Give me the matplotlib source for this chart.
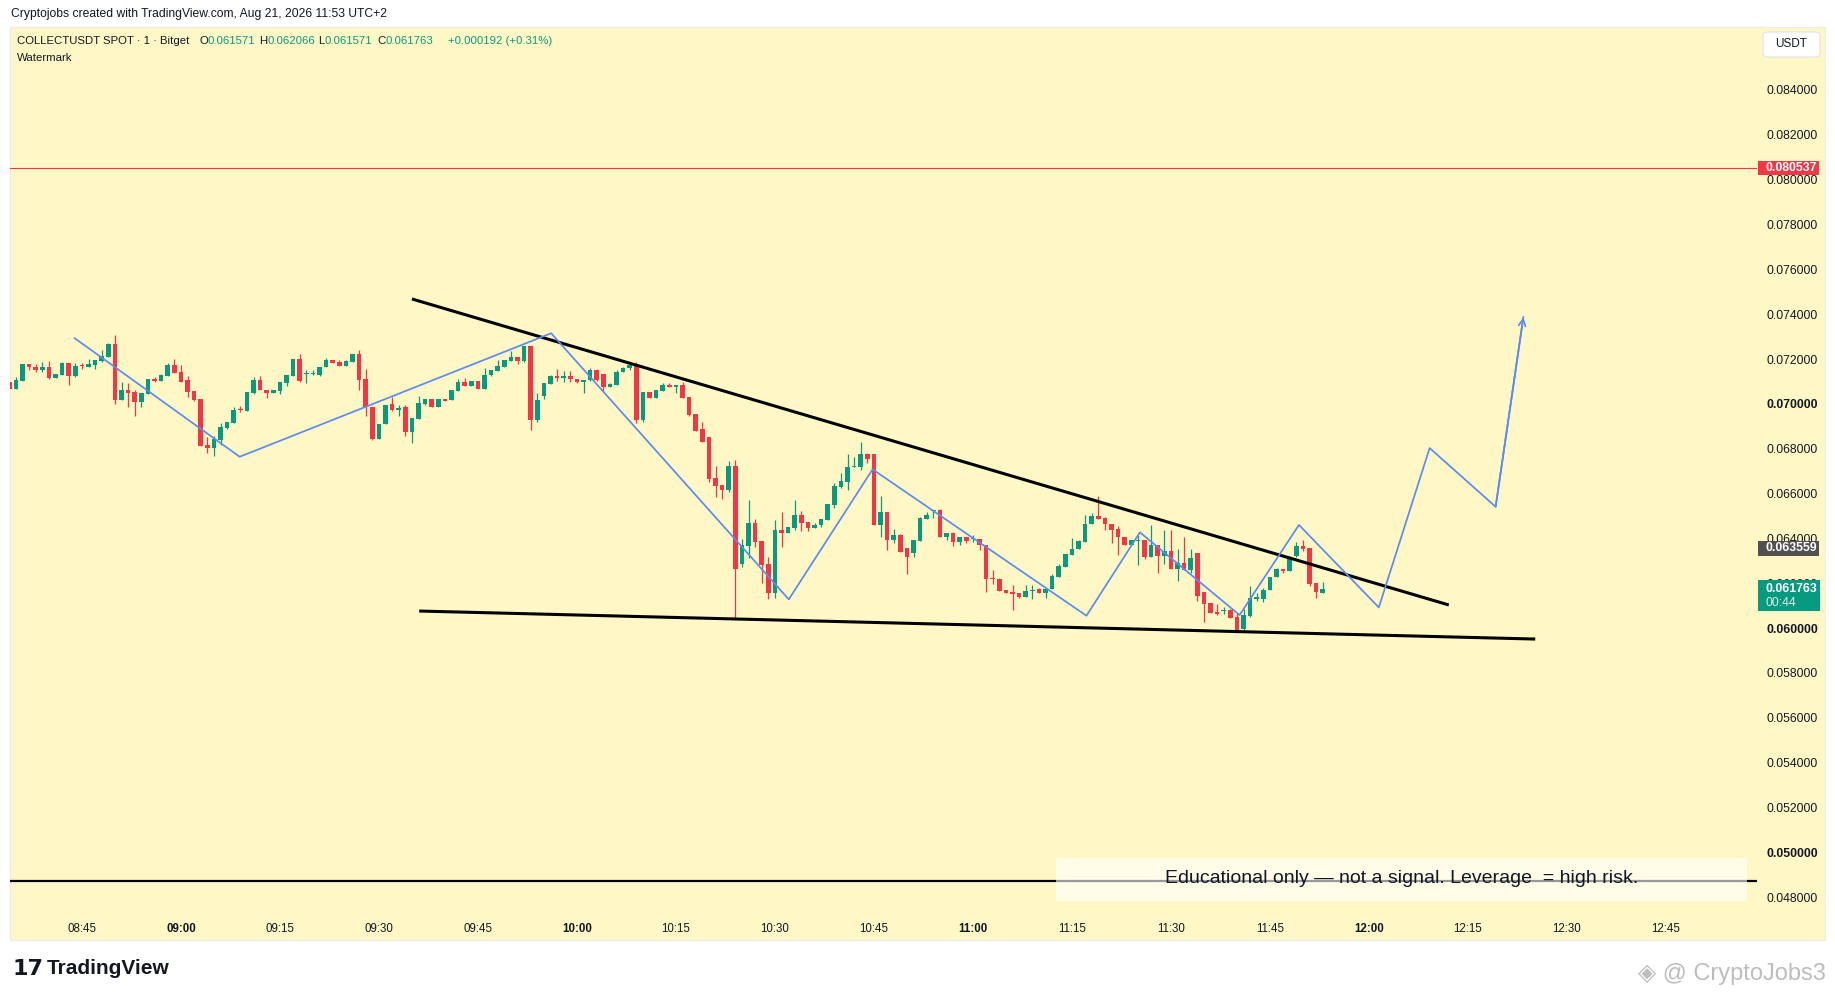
import matplotlib
matplotlib.use("Agg")
from matplotlib import pyplot as plt
from matplotlib.patches import Rectangle, FancyBboxPatch
import numpy as np

plt.rcParams['font.family'] = ['Liberation Sans', 'DejaVu Sans']

W, H = 1835, 1000

# 1-minute candles, first one at 08:34 (x = minutes after 08:00)
start_minute = 34
opens = [
    .07099, .07066, .07103, .07178, .07164, .07152, .07164, .07115, .07128, .07182,
    .07124, .07169, .07163, .07175, .07193, .07210, .07269, .07018, .07061, .07052,
    .07008, .07045, .07111, .07103, .07125, .07173, .07142, .07106, .07058, .07021,
    .06816, .06804, .06839, .06892, .06915, .06975, .06969, .07048, .07106, .07064,
    .07049, .07058, .07094, .07125, .07200, .07133, .07133, .07128, .07163, .07195,
    .07187, .07170, .07188, .07224, .07109, .06987, .06842, .06912, .06999, .06972,
    .06985, .06874, .06933, .06999, .07021, .06985, .07021, .07017, .07058, .07097,
    .07079, .07102, .07066, .07128, .07146, .07166, .07193, .07209, .07191, .07258,
    .06927, .07035, .07090, .07124, .07115, .07124, .07113, .07096, .07106, .07151,
    .07133, .07074, .07085, .07144, .07158, .07173, .06928, .07051, .07027, .07059,
    .07084, .07074, .07084, .07032, .06955, .06888, .06854, .06671, .06638, .06616,
    .06723, .06285, .06366, .06469, .06388, .06285, .06158, .06437, .06425, .06448,
    .06504, .06474, .06448, .06461, .06482, .06549, .06628, .06653, .06720, .06720,
    .06777, .06777, .06460, .06518, .06393, .06415, .06359, .06336, .06388, .06488,
    .06521, .06527, .06408, .06424, .06386, .06405, .06397, .06399, .06371, .06223,
    .06219, .06170, .06161, .06157, .06140, .06167, .06174, .06157, .06173, .06229,
    .06274, .06327, .06353, .06386, .06463, .06500, .06493, .06463, .06441, .06405,
    .06371, .06390, .06393, .06316, .06371, .06322, .06344, .06264, .06289, .06259,
    .06336, .06162, .06110, .06072, .06078, .06081, .06051, .05995, .06054, .06130,
    .06130, .06170, .06226, .06262, .06256, .06321, .06366, .06356, .06200, .061571]
highs = [
    .07099, .07121, .07178, .07178, .07176, .07187, .07191, .07124, .07188, .07182,
    .07181, .07181, .07200, .07195, .07240, .07273, .07307, .07097, .07094, .07064,
    .07048, .07111, .07119, .07133, .07181, .07200, .07173, .07124, .07058, .07021,
    .06853, .06856, .06914, .06918, .06984, .06990, .07052, .07119, .07124, .07064,
    .07061, .07097, .07128, .07200, .07222, .07151, .07151, .07166, .07203, .07195,
    .07195, .07194, .07222, .07240, .07154, .06987, .06909, .06997, .07032, .06994,
    .06997, .06936, .07035, .07021, .07021, .07021, .07021, .07061, .07109, .07115,
    .07102, .07102, .07158, .07151, .07195, .07195, .07237, .07209, .07258, .07258,
    .07047, .07093, .07130, .07154, .07146, .07146, .07113, .07106, .07160, .07155,
    .07133, .07095, .07151, .07165, .07180, .07185, .07051, .07051, .07062, .07092,
    .07092, .07084, .07096, .07032, .06955, .06921, .06854, .06723, .06638, .06747,
    .06750, .06397, .06571, .06486, .06388, .06318, .06482, .06516, .06451, .06571,
    .06522, .06474, .06467, .06486, .06553, .06646, .06692, .06777, .06762, .06830,
    .06783, .06777, .06589, .06518, .06443, .06420, .06359, .06393, .06497, .06519,
    .06527, .06530, .06424, .06428, .06405, .06405, .06414, .06399, .06371, .06259,
    .06223, .06170, .06192, .06157, .06192, .06190, .06177, .06173, .06241, .06284,
    .06330, .06400, .06393, .06504, .06512, .06591, .06494, .06463, .06455, .06405,
    .06393, .06415, .06393, .06460, .06371, .06438, .06438, .06351, .06405, .06351,
    .06336, .06162, .06110, .06107, .06096, .06084, .06066, .06084, .06188, .06155,
    .06177, .06229, .06267, .06262, .06321, .06386, .06393, .06356, .06200, .062066]
lows = [
    .07066, .07066, .07103, .07151, .07143, .07143, .07112, .07115, .07128, .07085,
    .07121, .07157, .07163, .07157, .07188, .07210, .07000, .07018, .06987, .06947,
    .06987, .07045, .07099, .07103, .07125, .07139, .07099, .07032, .07014, .06813,
    .06781, .06768, .06817, .06889, .06915, .06962, .06969, .07045, .07061, .07026,
    .07049, .07045, .07081, .07125, .07099, .07091, .07131, .07124, .07163, .07184,
    .07170, .07170, .07188, .07061, .06947, .06838, .06842, .06909, .06969, .06947,
    .06856, .06826, .06933, .06994, .06987, .06985, .07015, .07017, .07058, .07079,
    .07079, .07066, .07066, .07125, .07146, .07166, .07193, .07176, .07188, .06883,
    .06920, .07020, .07090, .07102, .07099, .07099, .07093, .07047, .07100, .07100,
    .07059, .07074, .07085, .07140, .07150, .06916, .06921, .07027, .07027, .07059,
    .07074, .07050, .07027, .06946, .06880, .06831, .06653, .06586, .06574, .06609,
    .06043, .06271, .06311, .06360, .06202, .06131, .06136, .06360, .06425, .06437,
    .06433, .06433, .06448, .06452, .06482, .06537, .06626, .06616, .06720, .06705,
    .06738, .06460, .06408, .06348, .06381, .06341, .06241, .06319, .06388, .06488,
    .06492, .06408, .06393, .06366, .06371, .06381, .06384, .06348, .06159, .06197,
    .06167, .06157, .06081, .06133, .06140, .06131, .06157, .06136, .06173, .06229,
    .06274, .06327, .06353, .06386, .06463, .06488, .06438, .06378, .06326, .06371,
    .06371, .06281, .06308, .06316, .06247, .06286, .06264, .06212, .06259, .06244,
    .06122, .06029, .06069, .06058, .06061, .06046, .05984, .05984, .06051, .06121,
    .06118, .06170, .06226, .06247, .06256, .06316, .06345, .06188, .06133, .061571]
closes = [
    .07066, .07106, .07178, .07164, .07152, .07164, .07115, .07133, .07184, .07125,
    .07169, .07168, .07178, .07195, .07213, .07269, .07017, .07061, .07049, .07009,
    .07048, .07111, .07102, .07128, .07173, .07139, .07099, .07054, .07017, .06813,
    .06804, .06842, .06896, .06918, .06972, .06974, .07052, .07106, .07061, .07049,
    .07061, .07097, .07128, .07200, .07102, .07136, .07136, .07164, .07195, .07184,
    .07170, .07191, .07222, .07106, .06984, .06842, .06909, .06994, .06972, .06981,
    .06874, .06936, .07003, .07021, .06987, .07021, .07015, .07061, .07097, .07079,
    .07102, .07066, .07128, .07151, .07170, .07195, .07209, .07193, .07258, .06927,
    .07017, .07093, .07125, .07115, .07124, .07112, .07096, .07106, .07151, .07106,
    .07074, .07089, .07144, .07158, .07172, .06928, .07051, .07027, .07062, .07084,
    .07074, .07084, .07027, .06951, .06880, .06831, .06666, .06634, .06616, .06723,
    .06263, .06370, .06469, .06384, .06281, .06158, .06437, .06425, .06451, .06504,
    .06467, .06448, .06461, .06486, .06553, .06634, .06656, .06719, .06725, .06777,
    .06753, .06460, .06518, .06393, .06415, .06341, .06319, .06393, .06491, .06504,
    .06527, .06408, .06424, .06386, .06405, .06390, .06400, .06369, .06219, .06217,
    .06167, .06157, .06152, .06140, .06165, .06169, .06157, .06173, .06234, .06277,
    .06330, .06353, .06390, .06463, .06500, .06488, .06463, .06438, .06405, .06371,
    .06393, .06393, .06316, .06371, .06322, .06344, .06264, .06289, .06259, .06311,
    .06143, .06107, .06069, .06063, .06081, .06046, .05984, .06058, .06133, .06137,
    .06170, .06226, .06262, .06256, .06311, .06366, .06353, .06195, .06160, .061763]

# drawings (x = minutes after 08:00)
zigzag_min = [43.9, 68.9, 116.1, 152.1, 164.8, 197.2, 205.3, 220.4, 229.4, 241.5, 249.2, 259.2, 263.4]
zigzag_px = [0.07293, 0.06764, 0.07315, 0.06128, 0.06708, 0.06055, 0.06427, 0.06058, 0.06460,
             0.06092, 0.06803, 0.06541, 0.07387]
upper_min, upper_px = [95.0, 252.1], [0.07468, 0.06103]
lower_min, lower_px = [96.1, 265.2], [0.06076, 0.05951]
support_level = 0.04871
alert_level = 0.080537
trend_label = 0.063559
last_price = 0.061763
note_text = "Educational only \u2014 not a signal. Leverage  = high risk."
bold_prices = [0.050, 0.060, 0.070]
legend_keys = ['O', 'H', 'L', 'C', '']
legend_vals = ['0.061571', '0.062066', '0.061571', '0.061763', '+0.000192 (+0.31%)']

GREEN = '#089981'
RED = '#f23645'
BLUE = '#5a8cf0'
BG = '#fff8c6'
TXT = '#131722'


def fx(px):
    return px / W


def fy(py):
    return 1 - py / H


fig = plt.figure(figsize=(W / 100, H / 100), dpi=100, facecolor='white')
fig.patches.append(Rectangle((fx(10), fy(940)), fx(1815), (940 - 27) / H, transform=fig.transFigure,
                             facecolor=BG, edgecolor='#ebebeb', lw=0.8, zorder=-5))

ax = fig.add_axes([fx(10), fy(908), fx(1747), (908 - 27) / H])
ax.set_facecolor('none')
for s in ax.spines.values():
    s.set_visible(False)
ax.set_xlim(34.1, 298.8)
ax.set_ylim(0.047514, 0.08681)

# candles
o = np.array(opens)
h = np.array(highs)
l = np.array(lows)
c = np.array(closes)
x = np.arange(len(o)) + start_minute
cols = np.where(c >= o, GREEN, RED)
ax.vlines(x, l, h, colors=cols, linewidth=0.9, zorder=2)
ax.bar(x, np.maximum(np.abs(c - o), 0.00004), bottom=np.minimum(o, c), width=0.7,
       color=cols, linewidth=0, zorder=3)

# horizontal levels
ax.axhline(alert_level, color=RED, lw=0.8, zorder=1)
ax.axhline(support_level, color='black', lw=1.6, zorder=2)

# trend lines and projection path
ax.plot(upper_min, upper_px, color='black', lw=2.2, solid_capstyle='butt', zorder=4)
ax.plot(lower_min, lower_px, color='black', lw=2.2, solid_capstyle='butt', zorder=4)
ax.plot(zigzag_min, zigzag_px, color=BLUE, lw=1.25, zorder=5)
ax.annotate('', xy=(zigzag_min[-1], zigzag_px[-1]), xytext=(zigzag_min[-2], zigzag_px[-2]),
            arrowprops=dict(arrowstyle='->,head_length=0.5,head_width=0.25', color=BLUE, lw=1.25,
                            shrinkA=0, shrinkB=0), zorder=5)

# note box over the support line
ax.add_patch(Rectangle((192.6, 0.047827), 104.7, 0.001918, facecolor='white', alpha=0.6,
                       edgecolor='none', zorder=6))
ax.text(244.9, 0.04881, note_text, ha='center', va='center', fontsize=14, color=TXT, zorder=7)

# axes ticks
xt = list(range(45, 286, 15))
ax.set_xticks(xt)
ax.set_xticklabels(['%02d:%02d' % (8 + m // 60, m % 60) for m in xt])
yt = np.round(np.arange(0.048, 0.0841, 0.002), 3)
ax.set_yticks(yt)
ax.set_yticklabels(['%.6f' % v for v in yt])
ax.yaxis.tick_right()
ax.tick_params(axis='both', length=0, labelcolor=TXT)
ax.tick_params(axis='x', pad=11, labelsize=8.3)
ax.tick_params(axis='y', pad=6.5, labelsize=8.8)
for lab, m in zip(ax.get_xticklabels(), xt):
    if m % 60 == 0:
        lab.set_fontweight('bold')
for lab, v in zip(ax.get_yticklabels(), yt):
    if any(abs(v - b) < 1e-9 for b in bold_prices):
        lab.set_fontweight('bold')

# price labels on the scale
yx = ax.get_yaxis_transform()
ax.add_patch(Rectangle((1.0006, alert_level - 0.000312), 0.0349, 0.000624, transform=yx,
                       facecolor=RED, edgecolor='none', clip_on=False, zorder=8))
ax.text(1.00515, alert_level, '%.6f' % alert_level, transform=yx, color='white', fontsize=8.8,
        fontweight='bold', va='center', ha='left', zorder=9, clip_on=False)
ax.add_patch(Rectangle((1.0006, trend_label - 0.000335), 0.0349, 0.00067, transform=yx,
                       facecolor='#505050', edgecolor='none', clip_on=False, zorder=8))
ax.text(1.00515, trend_label, '%.6f' % trend_label, transform=yx, color='white', fontsize=8.8,
        fontweight='bold', va='center', ha='left', zorder=9, clip_on=False)
ax.add_patch(Rectangle((1.0006, 0.060762), 0.0355, 0.001382, transform=yx,
                       facecolor=GREEN, edgecolor='none', clip_on=False, zorder=8))
ax.text(1.00515, last_price, '%.6f' % last_price, transform=yx, color='white', fontsize=8.8,
        fontweight='bold', va='center', ha='left', zorder=9, clip_on=False)
ax.text(1.00515, 0.061119, '00:44', transform=yx, color='#d6f0ea', fontsize=8.8,
        va='center', ha='left', zorder=9, clip_on=False)

# USDT box
fig.patches.append(FancyBboxPatch((fx(1763), fy(57)), fx(57), 25 / H, boxstyle='round,pad=0,rounding_size=0.003',
                                  transform=fig.transFigure, facecolor='white', edgecolor='#e0e3eb', lw=0.8))
fig.text(fx(1791), fy(44), 'USDT', ha='center', va='center', fontsize=8.5, color=TXT)

# header and legend
fig.text(fx(11), fy(14), 'Cryptojobs created with TradingView.com, Aug 21, 2026 11:53 UTC+2',
         fontsize=8.7, color=TXT, va='center')
fig.text(fx(17), fy(41), 'COLLECTUSDT SPOT \u00b7 1 \u00b7 Bitget', fontsize=8.2, color=TXT, va='center')
fig.text(fx(17), fy(58), 'Watermark', fontsize=8.2, color=TXT, va='center')
renderer = fig.canvas.get_renderer()
legend_x = [199, 259, 318, 377, 448]
for key, val, px in zip(legend_keys, legend_vals, legend_x):
    x0 = fx(px)
    if key:
        t = fig.text(x0, fy(41), key, fontsize=8.2, color=TXT, va='center')
        x0 = t.get_window_extent(renderer).x1 / W
    fig.text(x0, fy(41), val, fontsize=8.2, color=GREEN, va='center')

# footer
fig.text(fx(12), fy(969), '17', fontsize=16, fontweight='heavy', color=TXT, va='center',
         family='DejaVu Sans')
fig.text(fx(47), fy(969), 'TradingView', fontsize=15, fontweight='bold', color=TXT, va='center')
fig.text(fx(1826), fy(974), '\u25c8 @ CryptoJobs3', ha='right', va='center', fontsize=17,
         color='#bdbdbd', family=['Liberation Sans', 'DejaVu Sans'])

fig.savefig('out.png', dpi=100, facecolor='white')
